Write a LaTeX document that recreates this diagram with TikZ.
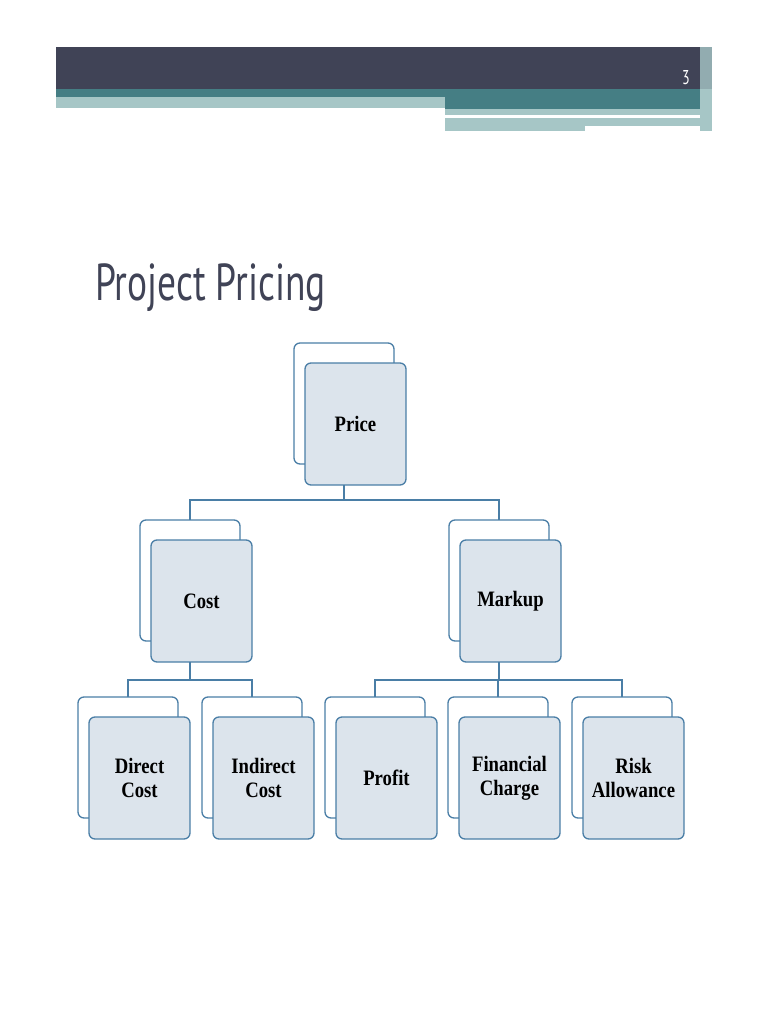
\documentclass[tikz,border=0pt]{standalone}
\usepackage{fontspec}
\setmainfont{Liberation Serif}
\newfontfamily\titlefont{PT Sans}
\begin{document}
\begin{tikzpicture}[x=1pt,y=-1pt,
  backbox/.style={draw=boxline,line width=1.3pt,rounded corners=6pt,fill=white},
  frontbox/.style={draw=boxline,line width=1.3pt,rounded corners=6pt,fill=boxfill},
  lbl/.style={font=\bfseries\fontsize{22}{24}\selectfont,align=center,xscale=0.85},
  conn/.style={draw=boxline,line width=1.3pt}]
\definecolor{boxline}{HTML}{4A7EA6}
\definecolor{boxfill}{HTML}{DCE4EC}
\definecolor{darkbar}{HTML}{404356}
\definecolor{tealbar}{HTML}{457E84}
\definecolor{lteal}{HTML}{A6C6C6}
\useasboundingbox (0,0) rectangle (768,1024);
% header
\fill[darkbar] (56,47) rectangle (700,89);
\fill[tealbar] (56,89) rectangle (700,97);
\fill[lteal] (56,97) rectangle (445,108);
\fill[tealbar] (445,97) rectangle (700,109);
\fill[lteal] (445,109) rectangle (700,115);
\fill[lteal] (445,118) rectangle (700,126);
\fill[lteal] (445,126) rectangle (585,131);
\fill[lteal!80!darkbar] (700,47) rectangle (712,89);
\fill[lteal] (700,89) rectangle (712,131);
\node[text=white,font=\titlefont\fontsize{20}{20}\selectfont,xscale=0.7] (pg) at (686,78) {3};
% title
\node[anchor=base west,text=darkbar,font=\titlefont\fontsize{52}{52}\selectfont,xscale=0.72,inner sep=0] (title) at (95,300) {Project Pricing};
% boxes
\newcommand{\tbox}[4]{% name, x, y (back top-left), text
  \draw[backbox] (#2,#3) rectangle ++(100,121);
  \draw[frontbox] (#2+11,#3+20) rectangle ++(101,122);
  \node[lbl] (#1) at (#2+61.5,#3+81) {#4};
  \coordinate (#1top) at (#2+50,#3);
  \coordinate (#1bot) at (#2+50,#3+142);}
\tbox{price}{294}{343}{Price}
\tbox{cost}{140}{520}{Cost}
\tbox{markup}{449}{520}{Markup}
\tbox{direct}{78}{697}{Direct\\Cost}
\tbox{indirect}{202}{697}{Indirect\\Cost}
\tbox{profit}{325}{697}{Profit}
\tbox{fin}{448}{697}{Financial\\Charge}
\tbox{risk}{572}{697}{Risk\\Allowance}
% connectors
\draw[conn] (pricebot) -- ++(0,15) -| (costtop);
\draw[conn] (pricebot) ++(0,15) -| (markuptop);
\draw[conn] (costbot) -- ++(0,18) -| (directtop);
\draw[conn] (costbot) ++(0,18) -| (indirecttop);
\draw[conn] (markupbot) -- ++(0,18) -| (profittop);
\draw[conn] (markupbot) ++(0,18) -| (fintop);
\draw[conn] (markupbot) ++(0,18) -| (risktop);
\end{tikzpicture}
\end{document}
